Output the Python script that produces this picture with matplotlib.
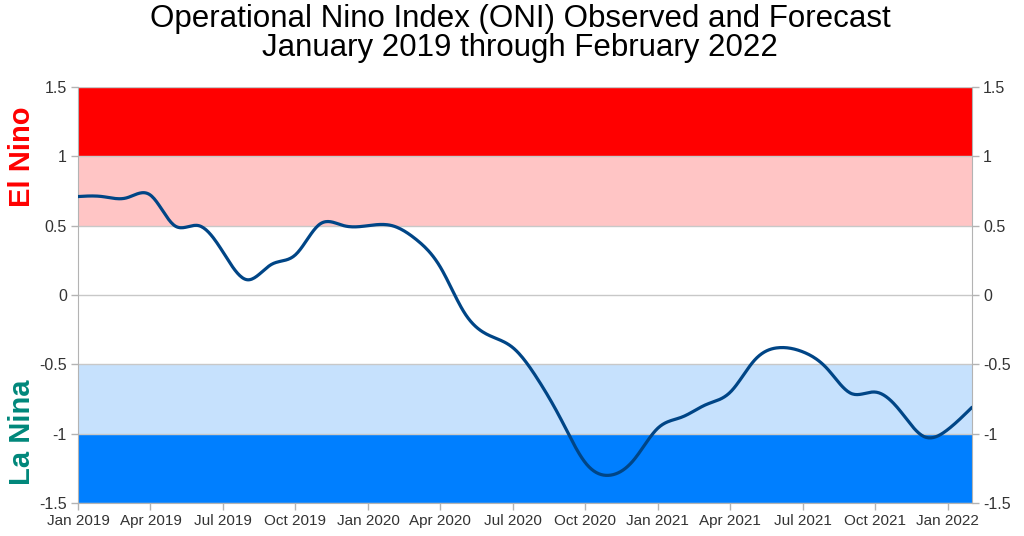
import matplotlib
matplotlib.use("Agg")
import matplotlib.pyplot as plt
import numpy as np

# ONI monthly values, Jan 2019 .. Feb 2022
oni = [0.71, 0.71, 0.70, 0.72, 0.50, 0.50, 0.31, 0.11, 0.22, 0.29,
       0.51, 0.50, 0.50, 0.50, 0.40, 0.20, -0.13, -0.29, -0.38, -0.60,
       -0.90, -1.21, -1.30, -1.19, -0.96, -0.88, -0.79, -0.70, -0.47, -0.38,
       -0.41, -0.53, -0.71, -0.70, -0.83, -1.02, -0.97, -0.81]
tick_labels = ['Jan 2019', 'Apr 2019', 'Jul 2019', 'Oct 2019', 'Jan 2020',
               'Apr 2020', 'Jul 2020', 'Oct 2020', 'Jan 2021', 'Apr 2021',
               'Jul 2021', 'Oct 2021', 'Jan 2022']
y_ticks = [-1.5, -1, -0.5, 0, 0.5, 1, 1.5]
y_labels = ['-1.5', '-1', '-0.5', '0', '0.5', '1', '1.5']

plt.rcParams['font.family'] = ['Liberation Sans', 'DejaVu Sans']


# natural cubic spline, just to draw the smoothed line
def spline(x, y, n=20):
    x = np.asarray(x, float)
    y = np.asarray(y, float)
    N = len(x)
    h = np.diff(x)
    A = np.zeros((N, N))
    b = np.zeros(N)
    A[0, 0] = 1
    A[-1, -1] = 1
    for i in range(1, N - 1):
        A[i, i - 1] = h[i - 1]
        A[i, i] = 2 * (h[i - 1] + h[i])
        A[i, i + 1] = h[i]
        b[i] = 6 * ((y[i + 1] - y[i]) / h[i] - (y[i] - y[i - 1]) / h[i - 1])
    M = np.linalg.solve(A, b)
    xs, ys = [], []
    for i in range(N - 1):
        t = np.linspace(x[i], x[i + 1], n, endpoint=False)
        a = x[i + 1] - t
        c = t - x[i]
        s = (M[i] * a**3 + M[i + 1] * c**3) / (6 * h[i]) \
            + (y[i] / h[i] - M[i] * h[i] / 6) * a \
            + (y[i + 1] / h[i] - M[i + 1] * h[i] / 6) * c
        xs.extend(t)
        ys.extend(s)
    xs.append(x[-1])
    ys.append(y[-1])
    return np.array(xs), np.array(ys)


months = np.arange(len(oni))

fig = plt.figure(figsize=(10.24, 5.36), dpi=100)
ax = fig.add_axes([78 / 1024, 33 / 536, 894 / 1024, 416 / 536])

ax.axhspan(1, 1.5, color='#ff0000', lw=0, zorder=0)
ax.axhspan(0.5, 1, color='#ffc5c5', lw=0, zorder=0)
ax.axhspan(-1, -0.5, color='#c6e1fd', lw=0, zorder=0)
ax.axhspan(-1.5, -1, color='#007fff', lw=0, zorder=0)
for v in y_ticks:
    ax.axhline(v, color='#c8c8c8', lw=1, zorder=1)

sx, sy = spline(months, oni)
ax.plot(sx, sy, color='#004586', lw=2.3, zorder=3, solid_capstyle='round')

ax.set_xlim(0, len(oni) - 1)
ax.set_ylim(-1.5, 1.5)
ax.set_xticks(months[::3])
ax.set_xticklabels(tick_labels, fontsize=11)
ax.set_yticks(y_ticks)
ax.set_yticklabels(y_labels, fontsize=11.5)
ax.tick_params(axis='both', colors='#b3b3b3', labelcolor='#333333', length=5, width=1)
ax.tick_params(axis='x', pad=3)
ax.tick_params(axis='y', right=True, labelright=True, pad=3)
for sp in ax.spines.values():
    sp.set_color('#b3b3b3')
ax.spines['top'].set_visible(False)

fig.text(520 / 1024, 1 - 27 / 536, 'Operational Nino Index (ONI) Observed and Forecast',
         ha='center', va='baseline', fontsize=22.5)
fig.text(520 / 1024, 1 - 56 / 536, 'January 2019 through February 2022',
         ha='center', va='baseline', fontsize=22.5)
fig.text(22 / 1024, 1 - 157 / 536, 'El Nino', rotation=90, ha='center', va='center',
         fontsize=21, fontweight='bold', color='#ff0000')
fig.text(22 / 1024, 1 - 432 / 536, 'La Nina', rotation=90, ha='center', va='center',
         fontsize=21, fontweight='bold', color='#00877a')

plt.savefig('out.png', dpi=100)
